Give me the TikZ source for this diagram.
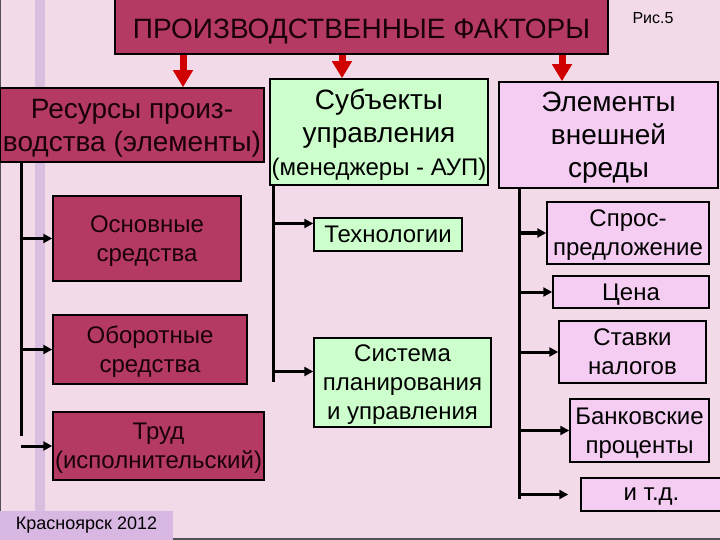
\documentclass[tikz,border=0pt]{standalone}
\usepackage{fontspec}
\setmainfont{Liberation Sans}
\usepackage{xcolor}
\usepackage{tikz}
\usetikzlibrary{arrows.meta,positioning,calc}
\definecolor{cBack}{HTML}{F2DAE8}
\definecolor{cStripe}{HTML}{D9BEE0}
\definecolor{cCrimson}{HTML}{B43A64}
\definecolor{cGreen}{HTML}{CCFFCC}
\definecolor{cLilac}{HTML}{F5CCF2}
\definecolor{cFoot}{HTML}{D8B8E2}
\definecolor{cArrow}{HTML}{D00000}
\definecolor{cText}{HTML}{1A0008}
\definecolor{cMuted}{HTML}{505058}
\newcommand\fsTitle{\fontsize{28}{32}\selectfont}
\newcommand\fsBig{\fontsize{28}{33}\selectfont}
\newcommand\fsMid{\fontsize{24}{29}\selectfont}
\newcommand\fsSmall{\fontsize{16}{18}\selectfont}
\newcommand\fsCity{\fontsize{18}{20}\selectfont}
\tikzset{
  crim/.style ={draw=black, line width=1.5pt, fill=cCrimson, align=center,
                inner sep=0pt, text depth=0pt, text=cText, font=\fsMid},
  grn/.style  ={draw=black, line width=1.5pt, fill=cGreen, align=center,
                inner sep=0pt, text depth=0pt, text=black, font=\fsMid},
  lil/.style  ={draw=black, line width=1.5pt, fill=cLilac, align=center,
                inner sep=0pt, text depth=0pt, text=black, font=\fsMid},
  trunk/.style={line width=3pt, draw=black},
  arrow/.style={-{Triangle[length=9pt,width=9pt]}, line width=3pt, draw=black},
  redarrow/.style={-{Triangle[length=17pt,width=19pt]}, line width=7pt, draw=cArrow},
}
\begin{document}
\begin{tikzpicture}[x=1pt,y=-1pt]
  \useasboundingbox (0,0) rectangle (720,540);
  \fill[cBack] (0,0) rectangle (720,540);
  \fill[cStripe] (35,0) rectangle (45,511);
  \draw[cMuted, line width=1pt] (0.5,0) -- (0.5,511);
  \draw[cMuted, line width=1.5pt] (173,539) -- (720,539);
  % header
  \node[crim, minimum width=493pt, minimum height=56pt, text height=25pt,
        font=\fsTitle] (title) at (361.5,26) {ПРОИЗВОДСТВЕННЫЕ ФАКТОРЫ};
  \node[font=\fsSmall] (fig) at (653,18) {Рис.5};
  % three groups
  \node[crim, minimum width=264pt, minimum height=74pt, font=\fsBig] (res) at (132,125)
    {Ресурсы произ-\\водства (элементы)};
  \node[grn, minimum width=218pt, minimum height=106pt, font=\fsBig] (subj) at (379,132)
    {Субъекты\\управления\\{\fsMid (менеджеры - АУП)}};
  \node[lil, minimum width=219pt, minimum height=106pt, font=\fsBig] (env) at (608.5,135)
    {Элементы\\внешней\\среды};
  % resources
  \node[crim, minimum width=188pt, minimum height=85pt] (osn) at (147,238.5) {Основные\\средства};
  \node[crim, minimum width=194pt, minimum height=69pt] (obor) at (150,349.5) {Оборотные\\средства};
  \node[crim, minimum width=211pt, minimum height=68pt] (trud) at (158.5,446) {Труд\\(исполнительский)};
  % management
  \node[grn, minimum width=148pt, minimum height=33pt] (tech) at (388,234.5) {Технологии};
  \node[grn, minimum width=177pt, minimum height=89pt] (sys) at (402.5,382.5)
    {Система\\планирования\\и управления};
  % environment
  \node[lil, minimum width=162pt, minimum height=62pt] (spros) at (628,233) {Спрос-\\предложение};
  \node[lil, minimum width=156pt, minimum height=32pt] (cena) at (631,292) {Цена};
  \node[lil, minimum width=147pt, minimum height=62pt] (stavki) at (632.5,352) {Ставки\\налогов};
  \node[lil, minimum width=139pt, minimum height=63pt] (bank) at (639.5,430.5) {Банковские\\проценты};
  \node[lil, minimum width=141pt, minimum height=33pt] (itd) at (651.5,494.5) {и т.д.};
  % footer
  \node[fill=cFoot, minimum width=173pt, minimum height=29pt, inner sep=0pt, font=\fsCity]
    (city) at (86.5,525.5) {Красноярск 2012};
  % red arrows
  \draw[redarrow] (183,0 |- title.south) -- (183,0 |- res.north);
  \draw[redarrow] (342,0 |- title.south) -- (342,0 |- subj.north);
  \draw[redarrow] (562,0 |- title.south) -- (562,0 |- env.north);
  % trunks
  \coordinate (ltop) at (21,0 |- res.south);
  \coordinate (mtop) at (273,0 |- subj.south);
  \coordinate (rtop) at (519,0 |- env.south);
  \draw[trunk] (ltop) -- (21,436);
  \draw[trunk] (mtop) -- (273,382);
  \draw[trunk] (rtop) -- (519,499);
  \foreach \n in {osn,obor,trud}
    \draw[arrow] (ltop |- \n.west) -- (\n.west);
  \foreach \n in {tech,sys}
    \draw[arrow] ([yshift=11pt]mtop |- \n.west) -- ([yshift=11pt]\n.west);
  \foreach \n in {spros,cena,stavki,bank}
    \draw[arrow] (rtop |- \n.west) -- (\n.west);
  \draw[arrow, shorten >=12pt] (rtop |- itd.west) -- (itd.west);
\end{tikzpicture}
\end{document}
